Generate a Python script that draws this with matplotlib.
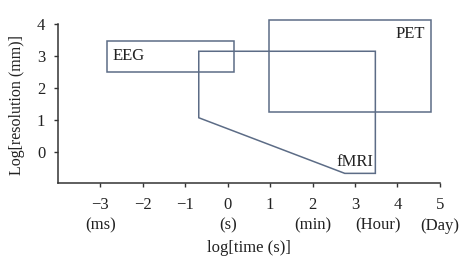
import matplotlib.pyplot as plt
from matplotlib.patches import Polygon, Rectangle

plt.rcParams['font.family'] = ['Liberation Serif', 'DejaVu Serif']

# log10 time (s) and log10 resolution (mm) ranges of each technique
eeg_time = [-2.85, 0.15]
eeg_res = [2.52, 3.48]
pet_time = [0.98, 4.8]
pet_res = [1.26, 4.13]
fmri_time = [-0.68, 3.48, 3.48, 2.76, -0.68]
fmri_res = [3.16, 3.16, -0.66, -0.66, 1.08]

xticks = [-3, -2, -1, 0, 1, 2, 3, 4, 5]
yticks = [0, 1, 2, 3, 4]
unit_pos = [-3, 0, 2, 3.55, 5]
unit_labels = ['(ms)', '(s)', '(min)', '(Hour)', '(Day)']

line_col = '#5c6c86'
axis_col = '#333333'

fig = plt.figure(figsize=(4.74, 2.73), dpi=100)
ax = fig.add_axes([0.122, 0.331, 0.806, 0.603])

ax.add_patch(Rectangle((eeg_time[0], eeg_res[0]), eeg_time[1] - eeg_time[0],
                       eeg_res[1] - eeg_res[0], fill=False, ec=line_col, lw=1.1))
ax.add_patch(Rectangle((pet_time[0], pet_res[0]), pet_time[1] - pet_time[0],
                       pet_res[1] - pet_res[0], fill=False, ec=line_col, lw=1.1))
ax.add_patch(Polygon(list(zip(fmri_time, fmri_res)), closed=True, fill=False,
                     ec=line_col, lw=1.1))

fs = 12
ax.text(eeg_time[0] + 0.15, (eeg_res[0] + eeg_res[1]) / 2, 'EEG', fontsize=fs,
        ha='left', va='center', color='#222222')
ax.text(pet_time[1] - 0.15, pet_res[1] - 0.42, 'PET', fontsize=fs,
        ha='right', va='center', color='#222222')
ax.text(fmri_time[1] - 0.04, -0.29, 'fMRI', fontsize=fs,
        ha='right', va='center', color='#222222')

ax.set_xlim(-4, 5)
ax.set_ylim(-0.95, 4.2)
ax.set_xticks(xticks)
ax.set_yticks(yticks)
ax.tick_params(direction='out', length=3, width=1, colors=axis_col,
               labelsize=fs, labelcolor='#222222')
ax.tick_params(axis='x', pad=7)
ax.tick_params(axis='y', pad=6)

for s in ['top', 'right']:
    ax.spines[s].set_visible(False)
for s in ['left', 'bottom']:
    ax.spines[s].set_color(axis_col)
    ax.spines[s].set_linewidth(1.1)
ax.spines['left'].set_bounds(-0.95, 4)
ax.spines['bottom'].set_bounds(-4, 5)

for xp, lab in zip(unit_pos, unit_labels):
    ax.text(xp, -0.262, lab, fontsize=fs, ha='center', va='center',
            color='#222222', transform=ax.get_xaxis_transform())

ax.text(0.5, -0.397, 'log[time (s)]', fontsize=fs, ha='center', va='center',
        color='#222222', transform=ax.transAxes)
ax.set_ylabel('Log[resolution (mm)]', fontsize=11.5, color='#222222')
ax.yaxis.set_label_coords(-0.086, 0.47)

plt.savefig('out.png', dpi=100)
